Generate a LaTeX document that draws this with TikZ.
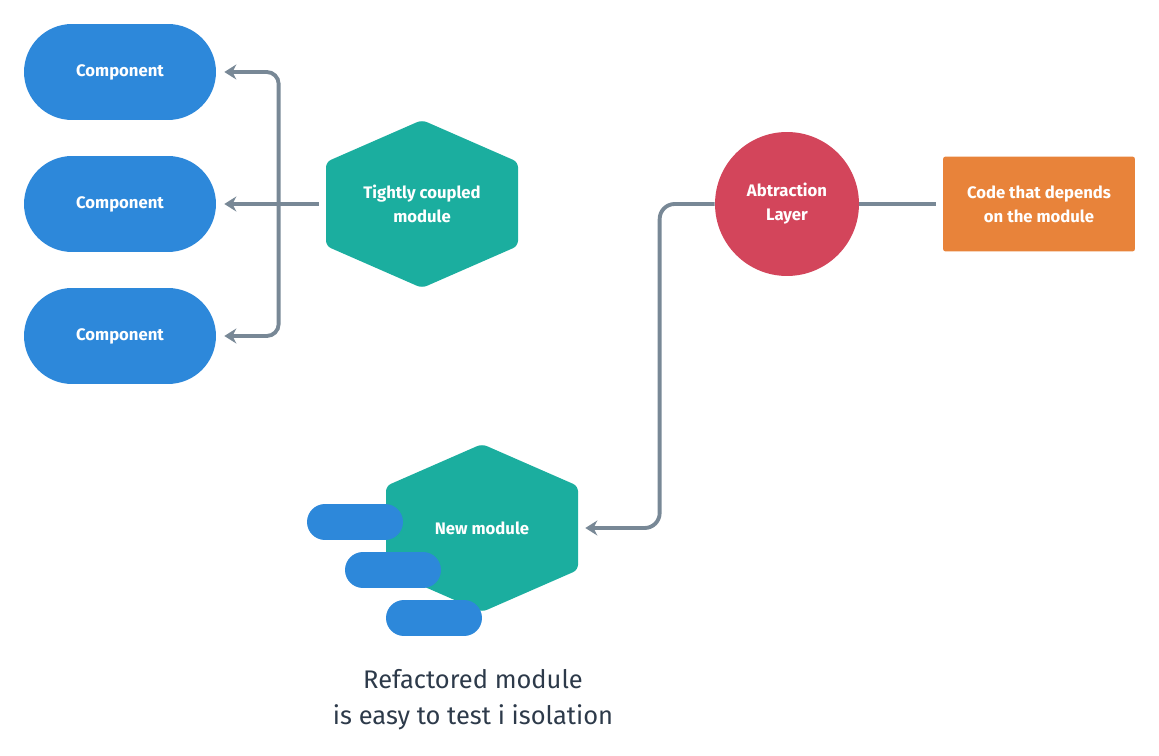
\documentclass[tikz,border=0pt]{standalone}
\usepackage{fontspec}
\setmainfont{Fira Sans}
\usetikzlibrary{arrows.meta, positioning, calc}
\definecolor{cBlue}{HTML}{2D88DA}
\definecolor{cTeal}{HTML}{1BAE9F}
\definecolor{cRed}{HTML}{D3455B}
\definecolor{cOrange}{HTML}{E8833A}
\definecolor{cWire}{HTML}{788896}
\definecolor{cText}{HTML}{2D3A4A}
\tikzset{
	pill/.style     ={rectangle, rounded corners=0.96cm, minimum width=3.84cm, minimum height=1.92cm, fill=cBlue, text=white, font=\bfseries\fontsize{9.5}{13.6}\selectfont},
	minipill/.style ={rectangle, rounded corners=0.36cm, minimum width=1.92cm, minimum height=0.72cm, fill=cBlue},
	hexlbl/.style   ={rectangle, minimum width=3.84cm, minimum height=3.36cm, align=center, text=white, font=\bfseries\fontsize{9.5}{13.6}\selectfont},
	hexfill/.style  ={fill=cTeal, rounded corners=3pt},
	layer/.style    ={circle, minimum size=2.88cm, align=center, fill=cRed, text=white, font=\bfseries\fontsize{9.5}{13.6}\selectfont},
	codebox/.style  ={rectangle, rounded corners=1.5pt, minimum width=3.84cm, minimum height=1.9cm, align=center, fill=cOrange, text=white, font=\bfseries\fontsize{9.5}{13.6}\selectfont},
	wire/.style     ={draw=cWire, line width=2.2pt},
	tip/.style      ={-{Stealth[length=2.4mm, width=3mm]}},
}
\begin{document}
\begin{tikzpicture}[x=0.02cm, y=-0.02cm]
	\useasboundingbox (0,0) rectangle (1159,756);
	% left side: one module, three components
	\node[pill] (comp1) at (120,72)  {Component};
	\node[pill] (comp2) at (120,204) {Component};
	\node[pill] (comp3) at (120,336) {Component};
	\path[hexfill] (422,120) -- (518,162) -- (518,246) -- (422,288) -- (326,246) -- (326,162) -- cycle;
	\node[hexlbl] (coupled) at (422,204) {Tightly coupled\\module};
	\coordinate (tap) at ([xshift=-0.14cm]coupled.west);
	\coordinate (hub) at ([xshift=-0.8cm]coupled.west);
	\draw[wire, tip, shorten >=0.16cm] (tap) -- (comp2.east);
	\draw[wire, tip, shorten >=0.16cm, rounded corners=0.24cm] (tap) -- (hub) .. controls ($(hub)+(-7,0)$) .. ($(hub)+(-7,-14)$) |- (comp1.east);
	\draw[wire, tip, shorten >=0.16cm, rounded corners=0.24cm] (tap) -- (hub) .. controls ($(hub)+(-7,0)$) .. ($(hub)+(-7,14)$) |- (comp3.east);
	% right side: abstraction layer
	\node[layer] (abst) at (787,204) {Abtraction\\Layer};
	\node[codebox] (dep) at (1039,204) {Code that depends\\on the module};
	\draw[wire, shorten >=0.14cm] (abst.east) -- (dep.west);
	% refactored module
	\path[hexfill] (482,444) -- (578,486) -- (578,570) -- (482,612) -- (386,570) -- (386,486) -- cycle;
	\node[hexlbl] (newmod) at (482,528) {New module};
	\node[minipill] (p1) at (355,522) {};
	\node[minipill] (p2) at (393,570) {};
	\node[minipill] (p3) at (434,618) {};
	\draw[wire, tip, shorten >=0.14cm, rounded corners=0.3cm] (abst.west) -- ++(-55,0) |- (newmod.east);
	\node[align=center, text=cText, font=\fontsize{14.5}{20.5}\selectfont] (caption) at (473,700) {Refactored module\\is easy to test i isolation};
\end{tikzpicture}
\end{document}
